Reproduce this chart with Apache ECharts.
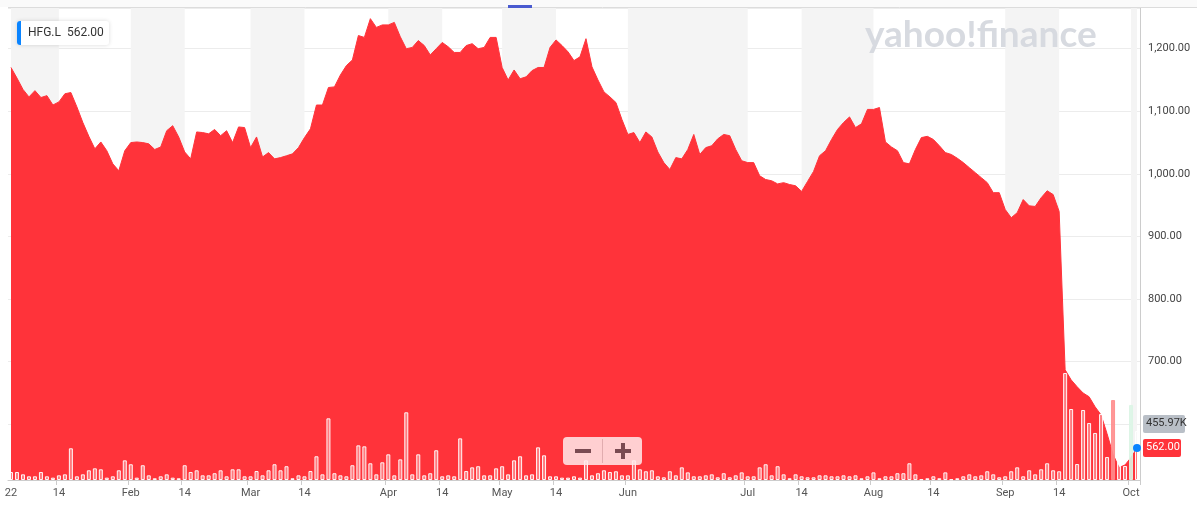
<!DOCTYPE html>
<html><head><meta charset="utf-8">
<script src="https://cdn.jsdelivr.net/npm/echarts@6/dist/echarts.min.js"></script>
<style>html,body{margin:0;padding:0;background:#fff}#c{width:1197px;height:517px}</style>
</head><body><div id="c"></div>
<script>
// trading calendar (LSE, 2022)
const startDate = '2022-01-04';
const endDate = '2022-10-04';
const holidays = ['2022-04-15','2022-04-18','2022-05-02','2022-06-02','2022-06-03','2022-08-29','2022-09-19'];

const prices = [1170,1153,1135,1123,1133,1122,1125,1110,1115,1128,1130,1107,1082,1060,1040,1051,1037,1016,1005,1037,
1050,1051,1050,1048,1039,1043,1069,1077,1059,1035,1024,1067,1066,1064,1071,1061,1069,1050,1075,1074,
1042,1059,1027,1034,1024,1026,1029,1032,1042,1058,1072,1110,1110,1138,1139,1158,1173,1182,1221,1218,
1248,1234,1238,1238,1242,1219,1200,1202,1213,1205,1190,1200,1210,1203,1194,1194,1205,1208,1200,1202,
1218,1218,1170,1150,1166,1152,1155,1165,1170,1170,1202,1214,1205,1195,1181,1187,1216,1171,1150,1131,
1123,1114,1087,1063,1066,1050,1067,1059,1035,1018,1007,1026,1024,1039,1063,1031,1042,1045,1056,1063,
1061,1039,1021,1018,1018,997,991,989,984,986,983,981,972,988,1004,1029,1037,1055,1071,1082,
1091,1074,1080,1103,1103,1106,1051,1043,1037,1018,1016,1039,1058,1060,1055,1045,1034,1031,1025,1018,
1010,1002,994,986,970,970,943,930,938,959,949,948,962,973,967,940,
687,671,660,650,644,628,615,585,552,531,535,547,562];

// volume in thousands
const volumes = [65,65,46,30,30,65,30,19,38,46,258,30,46,79,95,87,19,30,79,160,
128,19,120,38,14,30,46,19,14,120,65,79,38,38,55,79,30,87,87,30,
30,73,38,79,128,79,112,14,38,30,73,193,46,502,55,38,30,120,282,274,
136,46,144,209,38,168,551,46,209,38,55,242,30,38,30,339,73,103,112,38,
38,95,112,46,160,193,38,46,266,201,30,30,19,19,30,19,160,38,55,
79,65,71,38,38,160,87,71,79,30,22,71,38,103,62,30,30,38,46,22,
55,22,38,62,30,30,103,128,38,112,46,14,46,30,22,22,38,38,30,30,
38,30,38,14,30,62,14,30,30,55,55,136,46,5,14,30,14,62,5,14,
30,46,30,38,71,46,22,30,71,103,30,79,46,87,136,79,71,
871,578,130,570,464,383,537,187,651,147,114,611,399];
const volumeColorIdx = {184:'rgba(255,140,140,0.9)', 187:'rgba(220,245,230,0.9)'};

const tickDates = ['2022-01-14','2022-02-01','2022-02-14','2022-03-01','2022-03-14','2022-04-01','2022-04-14','2022-05-03','2022-05-16','2022-06-01','2022-07-01','2022-07-14','2022-08-01','2022-08-15','2022-09-01','2022-09-14','2022-10-03'];
const tickLabels = ['14','Feb','14','Mar','14','Apr','14','May','14','Jun','Jul','14','Aug','14','Sep','14','Oct'];
const firstLabel = '22';
const bands = [['2022-01-04','2022-01-14'],['2022-02-01','2022-02-14'],['2022-03-01','2022-03-14'],['2022-04-01','2022-04-14'],['2022-05-03','2022-05-16'],['2022-06-01','2022-07-01'],['2022-07-14','2022-08-01'],['2022-09-01','2022-09-14'],['2022-10-03','2022-10-04']];
const ticker = 'HFG.L';
const lastVolLabel = '455.97K';
const lastVol = 455.97;

function fmt(d){return d.toISOString().slice(0,10);}
const dates = [];
for (let d = new Date(startDate+'T00:00:00Z'); fmt(d) <= endDate; d.setUTCDate(d.getUTCDate()+1)) {
  const w = d.getUTCDay(); const s = fmt(d);
  if (w !== 0 && w !== 6 && holidays.indexOf(s) < 0) dates.push(s);
}
const tickIdx = {};
tickDates.forEach((t,i)=>{ tickIdx[dates.indexOf(t)] = tickLabels[i]; });

const RED = '#ff333a';
const chart = echarts.init(document.getElementById('c'));
const last = prices[prices.length-1];
chart.setOption({
  animation:false,
  grid:{left:8,right:57,top:8,bottom:37},
  xAxis:{type:'category',data:dates,boundaryGap:true,
    axisLine:{show:true,lineStyle:{color:'#ccc'}},
    axisTick:{show:true,interval:(i)=>tickIdx[i]!==undefined,length:5,lineStyle:{color:'#ccc'}},
    axisLabel:{interval:(i)=>tickIdx[i]!==undefined||i===0,formatter:(v,i)=>i===0?firstLabel:tickIdx[i],color:'#555',fontSize:11,fontFamily:'Roboto, Arial',margin:8},
    splitLine:{show:false}},
  yAxis:[{type:'value',position:'right',min:511,max:1265,splitNumber:7,
    axisLine:{show:true,lineStyle:{color:'#ccc'}},axisTick:{show:false},
    axisLabel:{showMinLabel:false,showMaxLabel:false,color:'#444',fontSize:11,fontFamily:'Roboto, Arial',margin:8,
      formatter:v=>v.toLocaleString('en-US',{minimumFractionDigits:2,maximumFractionDigits:2})},
    splitLine:{lineStyle:{color:'#ececec'}}},
   {type:'value',min:0,max:3843,show:false,splitLine:{show:false}}],
  series:[
    {type:'line',data:[],silent:true,z:0,
      markArea:{silent:true,itemStyle:{color:'#f4f4f4'},data:bands.map(b=>[{xAxis:b[0]},{xAxis:b[1]}])}},
    {type:'line',data:prices,showSymbol:false,z:2,lineStyle:{color:RED,width:1},
      areaStyle:{color:RED,opacity:1},itemStyle:{color:RED},
      markPoint:{symbol:'circle',symbolSize:8,itemStyle:{color:'#0a84ff',borderColor:'#fff',borderWidth:0},label:{show:false},
        data:[{coord:[dates[dates.length-1],last]}]}},
    {type:'bar',yAxisIndex:1,z:3,barWidth:4,
      data:volumes.map((v,i)=>volumeColorIdx[i]?{value:v,itemStyle:{color:volumeColorIdx[i],borderColor:volumeColorIdx[i]}}:v),
      itemStyle:{color:'rgba(255,255,255,0.35)',borderColor:'rgba(255,255,255,0.95)',borderWidth:1}}
  ]
});

const yPrice = chart.convertToPixel({yAxisIndex:0}, last);
const yVol = chart.convertToPixel({yAxisIndex:1}, lastVol);
const Z = 100;
chart.setOption({graphic:[
  {type:'rect',z:Z,shape:{x:0,y:0,width:1197,height:7},style:{fill:'#fafafa'}},
  {type:'line',z:Z,shape:{x1:8,y1:7.5,x2:1197,y2:7.5},style:{stroke:'#dcdcdc',lineWidth:1}},
  {type:'rect',z:Z,shape:{x:508,y:5,width:24,height:3},style:{fill:'#4a5bd0'}},
  {type:'text',z:Z,x:865,y:17,style:{text:'yahoo!finance',fontSize:37,fontWeight:'bold',fontFamily:'Lato, Arial',fill:'#d7dae0'}},
  {type:'rect',z:Z,shape:{x:17,y:21,width:92,height:24,r:3},style:{fill:'#fff',shadowBlur:4,shadowColor:'rgba(0,0,0,0.15)'}},
  {type:'rect',z:Z,shape:{x:17,y:21,width:4,height:24,r:[3,0,0,3]},style:{fill:'#0a84ff'}},
  {type:'text',z:Z,x:28,y:27,style:{text:ticker+'  '+last.toFixed(2),fontSize:12,fontFamily:'Roboto, Arial',fill:'#333'}},
  {type:'rect',z:Z,shape:{x:563,y:437,width:79,height:28,r:4},style:{fill:'rgba(255,235,236,0.85)'}},
  {type:'line',z:Z,shape:{x1:602.5,y1:439,x2:602.5,y2:463},style:{stroke:'rgba(180,120,125,0.4)'}},
  {type:'rect',z:Z,shape:{x:575,y:449,width:16,height:4},style:{fill:'#7a4a52'}},
  {type:'rect',z:Z,shape:{x:615,y:449,width:16,height:4},style:{fill:'#7a4a52'}},
  {type:'rect',z:Z,shape:{x:621,y:443,width:4,height:16},style:{fill:'#7a4a52'}},
  {type:'rect',z:Z,shape:{x:1143,y:yVol-9,width:42,height:18,r:2},style:{fill:'#b9bfc7'}},
  {type:'text',z:Z,x:1146,y:yVol-6,style:{text:lastVolLabel,fontSize:11,fontFamily:'Roboto, Arial',fill:'#333'}},
  {type:'rect',z:Z,shape:{x:1143,y:yPrice-9,width:38,height:18,r:2},style:{fill:RED}},
  {type:'text',z:Z,x:1146,y:yPrice-6,style:{text:last.toFixed(2),fontSize:11,fontFamily:'Roboto, Arial',fill:'#fff'}}
]});
</script></body></html>
